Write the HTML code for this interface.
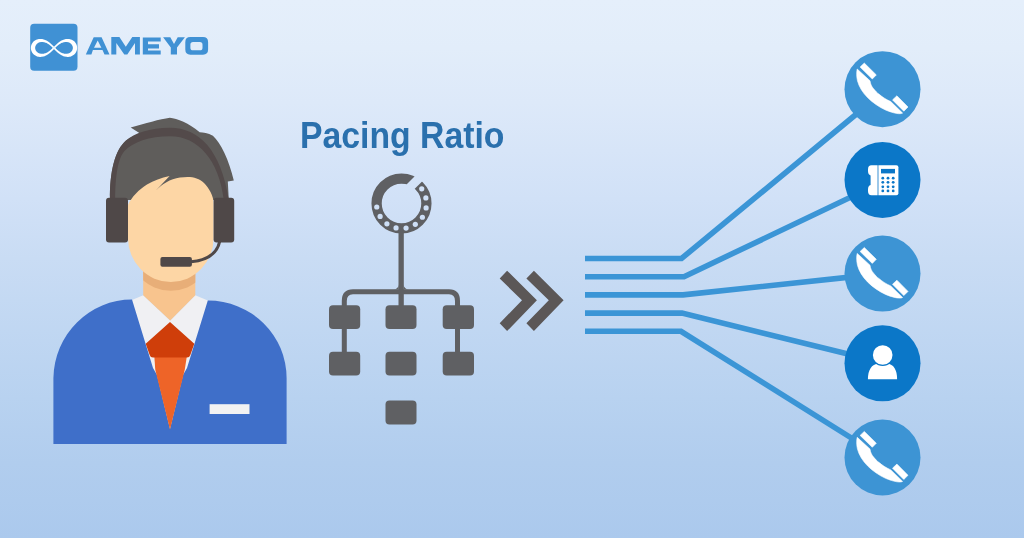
<!DOCTYPE html>
<html><head><meta charset="utf-8">
<style>
html,body{margin:0;padding:0;width:1024px;height:538px;overflow:hidden}
body{background:linear-gradient(to bottom,#e5effb 0%,#e2edfa 9%,#dde9f9 19%,#d7e5f8 28%,#d1e1f7 37%,#c9dcf4 48%,#b8d2f0 74%,#b1cdee 86%,#abc9ed 100%);position:relative;font-family:"Liberation Sans",sans-serif}
svg{position:absolute;left:0;top:0}
.title{position:absolute;left:300px;top:114.5px;font-family:"Liberation Sans",sans-serif;font-weight:bold;font-size:37.5px;color:#2a70ad;white-space:nowrap;letter-spacing:0px;line-height:40px;transform:scaleX(0.9);transform-origin:0 0}
</style></head><body>
<svg width="1024" height="538" viewBox="0 0 1024 538">
<defs>
<mask id="ringmask" maskUnits="userSpaceOnUse" x="360" y="160" width="90" height="90">
<rect x="360" y="160" width="90" height="90" fill="white"/>
<polygon points="401,190 450,141 450,153.6 401,202.6" fill="black"/>
<circle cx="421.73" cy="188.81" r="2.6" fill="black"/><circle cx="425.87" cy="197.92" r="2.6" fill="black"/><circle cx="426.1" cy="207.93" r="2.6" fill="black"/><circle cx="422.4" cy="217.23" r="2.6" fill="black"/><circle cx="415.33" cy="224.32" r="2.6" fill="black"/><circle cx="406.06" cy="228.08" r="2.6" fill="black"/><circle cx="396.05" cy="227.9" r="2.6" fill="black"/><circle cx="386.91" cy="223.8" r="2.6" fill="black"/><circle cx="380.12" cy="216.45" r="2.6" fill="black"/><circle cx="376.75" cy="207.02" r="2.6" fill="black"/>
</mask>
</defs>
<!-- logo -->
<rect x="30.2" y="23.8" width="47.3" height="47" rx="4" fill="#4091d4"/>
<path d="M54.6,48.5 L55.01,48.09 L55.43,47.68 L55.84,47.27 L56.26,46.87 L56.68,46.48 L57.11,46.09 L57.54,45.71 L57.99,45.33 L58.44,44.97 L58.91,44.62 L59.38,44.28 L59.87,43.96 L60.38,43.65 L60.89,43.37 L61.42,43.1 L61.96,42.86 L62.52,42.64 L63.09,42.45 L63.67,42.29 L64.26,42.16 L64.85,42.07 L65.45,42.01 L66.06,41.99 L66.66,42.02 L67.26,42.08 L67.86,42.19 L68.44,42.35 L69,42.55 L69.55,42.8 L70.07,43.09 L70.55,43.43 L71.01,43.81 L71.42,44.22 L71.78,44.68 L72.1,45.16 L72.37,45.68 L72.58,46.21 L72.73,46.76 L72.82,47.33 L72.85,47.9 L72.82,48.47 L72.73,49.03 L72.58,49.59 L72.37,50.12 L72.1,50.64 L71.78,51.12 L71.42,51.58 L71.01,51.99 L70.55,52.37 L70.07,52.71 L69.55,53 L69,53.25 L68.44,53.45 L67.86,53.61 L67.26,53.72 L66.66,53.78 L66.06,53.81 L65.45,53.79 L64.85,53.73 L64.26,53.64 L63.67,53.51 L63.09,53.35 L62.52,53.16 L61.96,52.94 L61.42,52.7 L60.89,52.43 L60.38,52.15 L59.87,51.84 L59.38,51.52 L58.91,51.18 L58.44,50.83 L57.99,50.47 L57.54,50.09 L57.11,49.71 L56.68,49.32 L56.26,48.93 L55.84,48.53 L55.43,48.12 L55.01,47.71 L54.6,47.3Z M53.4,48.5 L53.81,48.91 L54.23,49.33 L54.65,49.74 L55.07,50.16 L55.5,50.57 L55.93,50.99 L56.38,51.4 L56.83,51.81 L57.29,52.22 L57.76,52.63 L58.25,53.03 L58.76,53.43 L59.28,53.82 L59.81,54.2 L60.37,54.57 L60.96,54.93 L61.56,55.27 L62.19,55.59 L62.85,55.89 L63.54,56.16 L64.26,56.4 L65.01,56.6 L65.79,56.75 L66.59,56.86 L67.42,56.91 L68.27,56.89 L69.14,56.8 L70.02,56.64 L70.91,56.39 L71.78,56.04 L72.63,55.61 L73.46,55.07 L74.23,54.44 L74.94,53.72 L75.58,52.91 L76.12,52.01 L76.56,51.05 L76.89,50.03 L77.08,48.98 L77.15,47.9 L77.08,46.83 L76.89,45.77 L76.56,44.75 L76.12,43.79 L75.58,42.89 L74.94,42.08 L74.23,41.36 L73.46,40.73 L72.63,40.19 L71.78,39.76 L70.91,39.41 L70.02,39.16 L69.14,39 L68.27,38.91 L67.42,38.89 L66.59,38.94 L65.79,39.05 L65.01,39.2 L64.26,39.4 L63.54,39.64 L62.85,39.91 L62.19,40.21 L61.56,40.53 L60.96,40.87 L60.37,41.23 L59.81,41.6 L59.28,41.98 L58.76,42.37 L58.25,42.77 L57.76,43.17 L57.29,43.58 L56.83,43.99 L56.38,44.4 L55.93,44.81 L55.5,45.23 L55.07,45.64 L54.65,46.06 L54.23,46.47 L53.81,46.89 L53.4,47.3Z" fill="#fff" fill-rule="evenodd"/><path d="M54.6,47.3 L54.19,46.89 L53.77,46.47 L53.35,46.06 L52.93,45.64 L52.5,45.23 L52.07,44.81 L51.62,44.4 L51.17,43.99 L50.71,43.58 L50.24,43.17 L49.75,42.77 L49.24,42.37 L48.72,41.98 L48.19,41.6 L47.63,41.23 L47.04,40.87 L46.44,40.53 L45.81,40.21 L45.15,39.91 L44.46,39.64 L43.74,39.4 L42.99,39.2 L42.21,39.05 L41.41,38.94 L40.58,38.89 L39.73,38.91 L38.86,39 L37.98,39.16 L37.09,39.41 L36.22,39.76 L35.37,40.19 L34.54,40.73 L33.77,41.36 L33.06,42.08 L32.42,42.89 L31.88,43.79 L31.44,44.75 L31.11,45.77 L30.92,46.83 L30.85,47.9 L30.92,48.98 L31.11,50.03 L31.44,51.05 L31.88,52.01 L32.42,52.91 L33.06,53.72 L33.77,54.44 L34.54,55.07 L35.37,55.61 L36.22,56.04 L37.09,56.39 L37.98,56.64 L38.86,56.8 L39.73,56.89 L40.58,56.91 L41.41,56.86 L42.21,56.75 L42.99,56.6 L43.74,56.4 L44.46,56.16 L45.15,55.89 L45.81,55.59 L46.44,55.27 L47.04,54.93 L47.63,54.57 L48.19,54.2 L48.72,53.82 L49.24,53.43 L49.75,53.03 L50.24,52.63 L50.71,52.22 L51.17,51.81 L51.62,51.4 L52.07,50.99 L52.5,50.57 L52.93,50.16 L53.35,49.74 L53.77,49.33 L54.19,48.91 L54.6,48.5Z M53.4,47.3 L52.99,47.71 L52.57,48.12 L52.16,48.53 L51.74,48.93 L51.32,49.32 L50.89,49.71 L50.46,50.09 L50.01,50.47 L49.56,50.83 L49.09,51.18 L48.62,51.52 L48.13,51.84 L47.62,52.15 L47.11,52.43 L46.58,52.7 L46.04,52.94 L45.48,53.16 L44.91,53.35 L44.33,53.51 L43.74,53.64 L43.15,53.73 L42.55,53.79 L41.94,53.81 L41.34,53.78 L40.74,53.72 L40.14,53.61 L39.56,53.45 L39,53.25 L38.45,53 L37.93,52.71 L37.45,52.37 L36.99,51.99 L36.58,51.58 L36.22,51.12 L35.9,50.64 L35.63,50.12 L35.42,49.59 L35.27,49.03 L35.18,48.47 L35.15,47.9 L35.18,47.33 L35.27,46.76 L35.42,46.21 L35.63,45.68 L35.9,45.16 L36.22,44.68 L36.58,44.22 L36.99,43.81 L37.45,43.43 L37.93,43.09 L38.45,42.8 L39,42.55 L39.56,42.35 L40.14,42.19 L40.74,42.08 L41.34,42.02 L41.94,41.99 L42.55,42.01 L43.15,42.07 L43.74,42.16 L44.33,42.29 L44.91,42.45 L45.48,42.64 L46.04,42.86 L46.58,43.1 L47.11,43.37 L47.62,43.65 L48.13,43.96 L48.62,44.28 L49.09,44.62 L49.56,44.97 L50.01,45.33 L50.46,45.71 L50.89,46.09 L51.32,46.48 L51.74,46.87 L52.16,47.27 L52.57,47.68 L52.99,48.09 L53.4,48.5Z" fill="#fff" fill-rule="evenodd"/>
<g fill="#4091d4">
<path d="M85.8,54.6 L93.7,37.3 H101.6 L109.5,54.6 H104.5 L102.5,49.9 H92.9 L91.4,54.6Z M94,47.8 H101.4 L97.7,40.4Z"/>
<path d="M111.3,54.6 V37.1 H119.4 L125.8,46.8 L132.3,37.1 H139.9 V54.6 H135 V43 L127.3,54.6 H124.3 L116.3,43 V54.6Z"/>
<path d="M142.8,54.6 V37.4 H160.7 V41.6 H148 V44.3 H159 V48.5 H148 V50.4 H160.7 V54.6Z"/>
<path d="M163.1,37.2 H170.3 L174,43.9 L177.7,37.2 H184.9 L177,47.4 V54.6 H170.8 V47.4Z"/>
<path d="M190.3,37.1 H203 Q208.1,37.1 208.1,42.2 V49.6 Q208.1,54.7 203,54.7 H190.3 Q185.3,54.7 185.3,49.6 V42.2 Q185.3,37.1 190.3,37.1Z M193,41.9 Q190.4,41.9 190.4,44.5 V47.7 Q190.4,50.3 193,50.3 H199.9 Q202.5,50.3 202.5,47.7 V44.5 Q202.5,41.9 199.9,41.9Z" fill-rule="evenodd"/>
</g>

<!-- avatar -->
<g id="avatar">
<!-- collar -->
<path d="M132,300 L143.2,295.3 L170.2,320.4 L195.3,295.3 L207.8,300.5 L208.5,303 L170,432 L131.5,303Z" fill="#f0f0f3"/>
<!-- neck -->
<path d="M143.2,255 H195.3 V295.3 L170.2,320.4 L143.2,295.3Z" fill="#f8c48e"/>
<clipPath id="neckclip"><rect x="143.2" y="240" width="52.1" height="60"/></clipPath><ellipse cx="170.8" cy="246.8" rx="42.8" ry="44" fill="#e8ae78" clip-path="url(#neckclip)"/>
<!-- jacket -->
<path d="M53.4,444 V378 A78.6,80 0 0 1 132,299.5 L153,368 L157,375 L170,429 L183,375 L187,368 L207.8,300.5 A78.8,77.5 0 0 1 286.6,378 V444Z" fill="#3f6fc9"/>
<!-- tie -->
<path d="M154.3,356 H186.9 L184.7,370 L170,429.5 L155.3,370Z" fill="#ee6428"/>
<path d="M170,322 L194.3,343.8 L190.3,355 Q189.5,357.5 187,357.5 H153 Q150.5,357.5 149.7,355 L145.7,343.8Z" fill="#cf3e0a"/>
<rect x="209.6" y="404.2" width="39.9" height="9.8" fill="#f2f2f2"/>
<!-- hair -->
<path d="M110,200 C109.5,172 115,150 126,140.5 C131,136.5 136,135 141.3,134.2 L130.7,127.4 C145,123.5 160,119 169.8,117.7 C177,118.5 189,123 199.7,132.2 C203,132.3 208,133 212.9,135.7 C221,143 229,160 233.8,180.5 L227.8,181.5 L228.8,200Z" fill="#5f5d5b"/>
<path d="M110,200 C109.5,172 115,150 126,140.5 C134,133.5 150,127.8 170,127.8 C199,127.8 221,150 228.8,200 L223.8,200 C219,160 198,136.2 170,136.2 C149,136.2 133,142 124.5,151 C118,158 115.2,176 115.2,200Z" fill="#534a4a"/>
<!-- face -->
<path d="M128,238 V205 C131.5,197 139,189.5 147,184.5 C154,180.5 161,178 169.6,176.1 L155.8,190.5 C162,184 170,179 180,177.5 C190,176 198,177 204,183 C209,188 213.6,196 213.6,203.5 V238 A42.8,44 0 0 1 128,238Z" fill="#fdd6a5"/>
<!-- headset -->
<rect x="106" y="197.8" width="22" height="44.7" rx="3" fill="#4f4848"/>
<rect x="213.6" y="197.8" width="20.6" height="44.7" rx="3" fill="#4f4848"/>
<path d="M219.8,241 Q216,259.5 191,261.8" fill="none" stroke="#4f4848" stroke-width="3"/>
<rect x="160.4" y="257" width="31.5" height="9.7" rx="2" fill="#4f4848"/>
</g>

<!-- flowchart -->
<g fill="#5f6063">
<circle cx="401.5" cy="203.5" r="24.9" fill="none" stroke="#5f6063" stroke-width="10.3" mask="url(#ringmask)"/>
<rect x="398.5" y="232" width="5.3" height="74"/><path d="M393.5,289.6 L398.7,289.6 L398.7,284.4 A5.2,5.2 0 0 1 393.5,289.6Z M408.8,289.6 L403.6,289.6 L403.6,284.4 A5.2,5.2 0 0 0 408.8,289.6Z"/>
<path d="M344.3,306 V301 Q344.3,291.8 353,291.8 H449 Q457.5,291.8 457.5,301 V306" fill="none" stroke="#5f6063" stroke-width="5"/>
<path d="M344.3,328 V353 M457.5,328 V353" stroke="#5f6063" stroke-width="5"/>
<rect x="329" y="305.2" width="31.2" height="23.7" rx="4"/>
<rect x="385.5" y="305.2" width="31" height="23.7" rx="4"/>
<rect x="442.7" y="305.2" width="31.3" height="23.7" rx="4"/>
<rect x="329" y="351.7" width="31.2" height="23.7" rx="4"/>
<rect x="385.5" y="351.7" width="31" height="23.7" rx="4"/>
<rect x="442.7" y="351.7" width="31.3" height="23.7" rx="4"/>
<rect x="385.5" y="400.4" width="31" height="24" rx="4"/>
</g>
<!-- chevrons -->
<g fill="#5b5757">
<polygon points="507.1,270.7 536.9,300.2 507.1,331.1 499.7,323.2 522,300.2 499.7,278.6"/>
<polygon points="533.9,270.7 563.6,300.2 533.9,331.1 526.4,323.2 548.8,300.2 526.4,278.6"/>
</g>

<!-- lines -->
<g fill="none" stroke="#3b95d6" stroke-width="5.6" stroke-linejoin="miter">
<path d="M585,258.5 H681.5 L882.5,92.5"/><path d="M585,276.7 H684 L882.5,182"/><path d="M585,294.9 H683 L882.5,273.6"/><path d="M585,313.1 H682 L882.5,362.5"/><path d="M585,331.3 H681 L882.5,457.5"/>
</g>
<!-- circles -->
<circle cx="882.5" cy="89.2" r="38" fill="#3d94d4"/>
<circle cx="882.5" cy="180" r="38" fill="#0b77c8"/>
<circle cx="882.5" cy="273.6" r="38" fill="#3d94d4"/>
<circle cx="882.5" cy="363.3" r="38" fill="#0b77c8"/>
<circle cx="882.5" cy="457.5" r="38" fill="#3d94d4"/>
<g transform="translate(852,58)"><g fill="#fff" stroke="#fff" stroke-width="0.6" stroke-linejoin="round">
<path d="M8.1,9.1 L12.3,5.1 L24.3,16.9 L20.3,21Z"/>
<path d="M5.2,11 L18,22.8 C18.5,26 19.5,28.5 21.6,30.8 C23.5,33 25,35 27.2,36.3 C30,38.8 33.5,41.2 38.8,43.6 L50.6,55.1 C48,56.5 42,55.5 33.5,52 C27,49 20.5,44.5 15.5,39.5 C10.5,34.5 7,28.5 5.5,23 C4.5,19 4.4,14 5.2,11Z"/>
<path d="M40.5,41.9 L44.9,37.8 L56,49 L51.8,53.2Z"/>
</g></g>
<g transform="translate(852,242.4)"><g fill="#fff" stroke="#fff" stroke-width="0.6" stroke-linejoin="round">
<path d="M8.1,9.1 L12.3,5.1 L24.3,16.9 L20.3,21Z"/>
<path d="M5.2,11 L18,22.8 C18.5,26 19.5,28.5 21.6,30.8 C23.5,33 25,35 27.2,36.3 C30,38.8 33.5,41.2 38.8,43.6 L50.6,55.1 C48,56.5 42,55.5 33.5,52 C27,49 20.5,44.5 15.5,39.5 C10.5,34.5 7,28.5 5.5,23 C4.5,19 4.4,14 5.2,11Z"/>
<path d="M40.5,41.9 L44.9,37.8 L56,49 L51.8,53.2Z"/>
</g></g>
<g transform="translate(852,426.3)"><g fill="#fff" stroke="#fff" stroke-width="0.6" stroke-linejoin="round">
<path d="M8.1,9.1 L12.3,5.1 L24.3,16.9 L20.3,21Z"/>
<path d="M5.2,11 L18,22.8 C18.5,26 19.5,28.5 21.6,30.8 C23.5,33 25,35 27.2,36.3 C30,38.8 33.5,41.2 38.8,43.6 L50.6,55.1 C48,56.5 42,55.5 33.5,52 C27,49 20.5,44.5 15.5,39.5 C10.5,34.5 7,28.5 5.5,23 C4.5,19 4.4,14 5.2,11Z"/>
<path d="M40.5,41.9 L44.9,37.8 L56,49 L51.8,53.2Z"/>
</g></g>
<!-- desk phone -->
<g fill="#fff">
<path d="M878.4,165.2 H896.4 Q898.4,165.2 898.4,167.2 V193.3 Q898.4,195.3 896.4,195.3 H878.4Z"/>
<path d="M871.5,165.2 H877.6 V195.2 H871.5 Q868,195.2 868,191 V189.5 Q868,185.8 870.6,185 V175.4 Q868,174.6 868,171 V169.4 Q868,165.2 871.5,165.2Z"/>
</g>
<g fill="#0b77c8">
<rect x="881" y="168.9" width="14" height="4.5"/>
<circle cx="882.8" cy="178.2" r="1.4"/><circle cx="882.8" cy="182.3" r="1.4"/><circle cx="882.8" cy="186.8" r="1.4"/><circle cx="882.8" cy="190.9" r="1.4"/><circle cx="888" cy="178.2" r="1.4"/><circle cx="888" cy="182.3" r="1.4"/><circle cx="888" cy="186.8" r="1.4"/><circle cx="888" cy="190.9" r="1.4"/><circle cx="893.2" cy="178.2" r="1.4"/><circle cx="893.2" cy="182.3" r="1.4"/><circle cx="893.2" cy="186.8" r="1.4"/><circle cx="893.2" cy="190.9" r="1.4"/>
</g>
<!-- person -->
<g fill="#fff">
<path d="M867.9,379.3 C867.9,370.5 871.5,364 878.5,363.6 H886.9 C893.9,364 897.1,370.5 897.1,379.3Z"/>
<circle cx="882.7" cy="355" r="11.1" fill="#0b77c8"/>
<circle cx="882.7" cy="355" r="9.8"/>
</g>
</svg>
<div class="title">Pacing Ratio</div>
</body></html>
